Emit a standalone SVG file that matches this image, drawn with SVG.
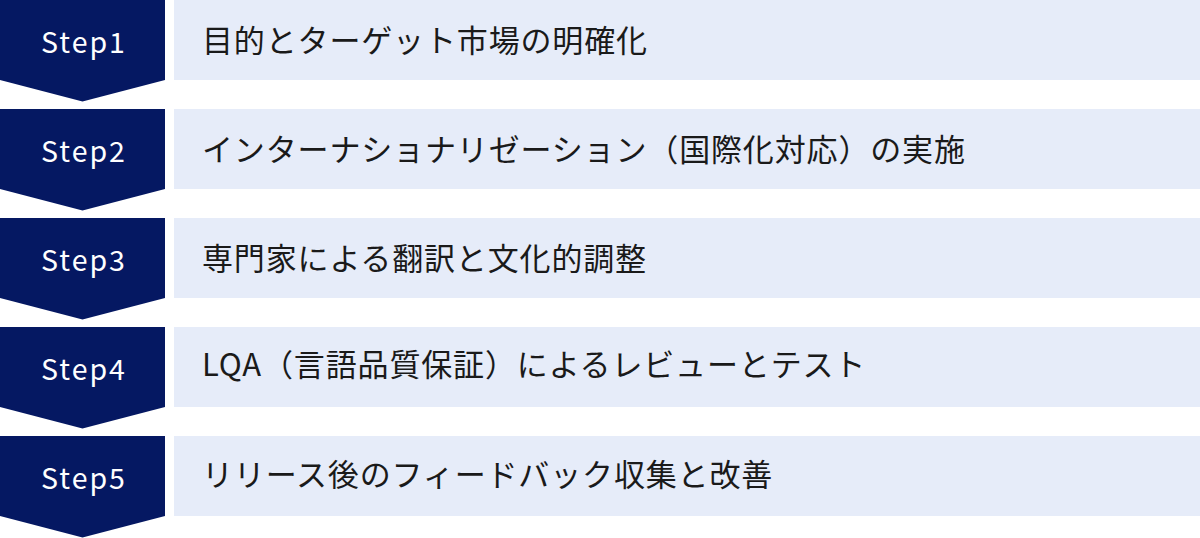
<svg xmlns="http://www.w3.org/2000/svg" width="1200" height="538" viewBox="0 0 1200 538">
  <defs>
    <style>
      .chev { fill: #051862; }
      .box { fill: #E6ECF9; }
      .step { font-family: "Noto Sans CJK JP", "Noto Sans", sans-serif; font-size: 28.5px; fill: #ffffff; letter-spacing: 2px; text-anchor: middle; }
      .label { font-family: "Noto Sans CJK JP", "Noto Sans", sans-serif; font-size: 31px; fill: #1a1a1a; letter-spacing: 0.85px; }
    </style>
  </defs>
  <rect width="1200" height="538" fill="#ffffff"/>
  <g id="step1">
    <polygon class="chev" points="0,0 165,0 165,80 82.5,101.5 0,80"/>
    <rect class="box" x="174" y="0" width="1026" height="80"/>
    <text class="step" x="84" y="53">Step1</text>
    <text class="label" x="202" y="51.5">目的とターゲット市場の明確化</text>
  </g>
  <g id="step2">
    <polygon class="chev" points="0,109 165,109 165,189 82.5,210.5 0,189"/>
    <rect class="box" x="174" y="109" width="1026" height="80"/>
    <text class="step" x="84" y="162">Step2</text>
    <text class="label" x="202" y="160.5">インターナショナリゼーション（国際化対応）の実施</text>
  </g>
  <g id="step3">
    <polygon class="chev" points="0,218 165,218 165,298 82.5,319.5 0,298"/>
    <rect class="box" x="174" y="218" width="1026" height="80"/>
    <text class="step" x="84" y="271">Step3</text>
    <text class="label" x="202" y="269.5">専門家による翻訳と文化的調整</text>
  </g>
  <g id="step4">
    <polygon class="chev" points="0,327 165,327 165,407 82.5,428.5 0,407"/>
    <rect class="box" x="174" y="327" width="1026" height="80"/>
    <text class="step" x="84" y="379.5">Step4</text>
    <text class="label" x="202" y="375.5">LQA（言語品質保証）によるレビューとテスト</text>
  </g>
  <g id="step5">
    <polygon class="chev" points="0,436 165,436 165,516 82.5,537.5 0,516"/>
    <rect class="box" x="174" y="436" width="1026" height="80"/>
    <text class="step" x="84" y="489">Step5</text>
    <text class="label" x="202" y="485.5">リリース後のフィードバック収集と改善</text>
  </g>
  <g id="connectors"/>
</svg>
